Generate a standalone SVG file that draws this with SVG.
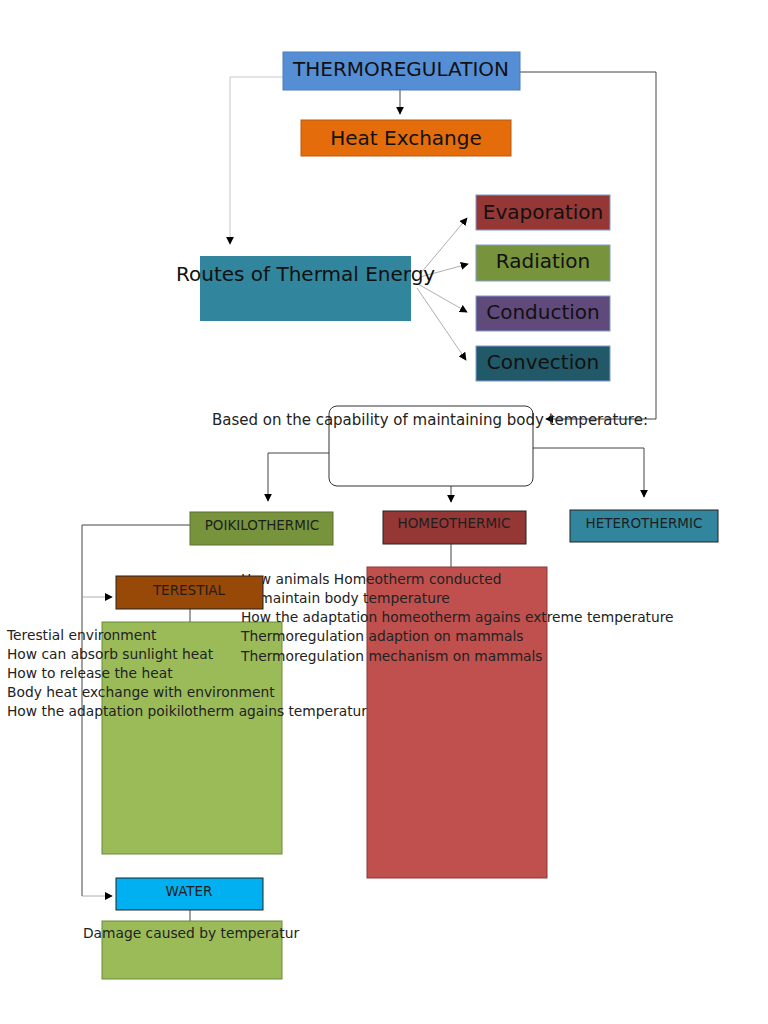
<svg xmlns="http://www.w3.org/2000/svg" width="768" height="1024" viewBox="0 0 768 1024">
<style>
text{font-family:"DejaVu Sans","Verdana",sans-serif;fill:#111}
.big{font-size:20px}
.lbl{font-size:13.5px;fill:#1e1e1e}
.body{font-size:13.8px;fill:#222}
.c{text-anchor:middle}
.ln{fill:none;stroke:#444;stroke-width:1}
.lg{fill:none;stroke:#c8c8c8;stroke-width:1}
.lt{fill:none;stroke:#999;stroke-width:0.8}
.bx{stroke:#7f9ccf;stroke-width:1}
.dk{stroke:#222;stroke-width:1}
</style>
<defs>
<marker id="ah" viewBox="0 0 10 10" refX="9" refY="5" markerWidth="8" markerHeight="8" markerUnits="userSpaceOnUse" orient="auto">
<path d="M0,0 L10,5 L0,10 z" fill="#000"/>
</marker>
</defs>
<g id="connectors">
<path class="lg" d="M283,77 H230 V244" marker-end="url(#ah)"/>
<path class="ln" d="M400,90 V114" marker-end="url(#ah)"/>
<path class="ln" d="M520,72 H656 V419 H546" marker-end="url(#ah)"/>
<path class="lt" d="M420,274 L467,218" marker-end="url(#ah)"/>
<path class="lt" d="M420,277 L468,264" marker-end="url(#ah)"/>
<path class="lt" d="M418,284 L467,312" marker-end="url(#ah)"/>
<path class="lt" d="M417,288 L466,360" marker-end="url(#ah)"/>
<path class="ln" d="M329,453 H268 V501" marker-end="url(#ah)"/>
<path class="ln" d="M451,486 V502" marker-end="url(#ah)"/>
<path class="ln" d="M533,448 H644 V497" marker-end="url(#ah)"/>
<path class="ln" d="M190,525 H82 V896"/>
<path class="lt" d="M82,597 H112" marker-end="url(#ah)"/>
<path class="lt" d="M82,896 H112" marker-end="url(#ah)"/>
<path class="ln" d="M190,609 V622"/>
<path class="ln" d="M451,544 V567"/>
<path class="ln" d="M190,910 V921"/>
</g>
<g id="thermoregulation">
<rect x="283" y="52" width="237" height="38" fill="#558ed5" stroke="#4a7cc0"/>
<text class="big c" x="401" y="76">THERMOREGULATION</text>
</g>
<g id="heat-exchange">
<rect x="301" y="120" width="210" height="36" fill="#e46c0a" stroke="#b85a10"/>
<text class="big c" x="406" y="145">Heat Exchange</text>
</g>
<g id="routes">
<rect x="200" y="256" width="211" height="65" fill="#31859c"/>
<text class="big" x="176" y="281">Routes of Thermal Energy</text>
</g>
<g id="evaporation">
<rect class="bx" x="476" y="195" width="134" height="35" fill="#953735"/>
<text class="big c" x="543" y="219">Evaporation</text>
</g>
<g id="radiation">
<rect class="bx" x="476" y="245" width="134" height="36" fill="#77933c"/>
<text class="big c" x="543" y="268">Radiation</text>
</g>
<g id="conduction">
<rect class="bx" x="476" y="296" width="134" height="35" fill="#604a7b"/>
<text class="big c" x="543" y="319">Conduction</text>
</g>
<g id="convection">
<rect class="bx" x="476" y="346" width="134" height="35" fill="#215968"/>
<text class="big c" x="543" y="369">Convection</text>
</g>
<g id="capability">
<rect x="329" y="406" width="204" height="80" rx="8" fill="#fff" stroke="#333"/>
<text class="body" x="212" y="425" style="font-size:15px">Based on the capability of maintaining body temperature:</text>
</g>
<g id="poikilothermic">
<rect x="190" y="512" width="143" height="33" fill="#77933c" stroke="#5a7030"/>
<text class="lbl c" x="262" y="530">POIKILOTHERMIC</text>
</g>
<g id="homeothermic">
<rect class="dk" x="383" y="511" width="143" height="33" fill="#953735"/>
<text class="lbl c" x="454" y="528">HOMEOTHERMIC</text>
</g>
<g id="heterothermic">
<rect class="dk" x="570" y="510" width="148" height="32" fill="#31859c"/>
<text class="lbl c" x="644" y="528">HETEROTHERMIC</text>
</g>
<g id="poikilotherm-topics">
<rect x="102" y="622" width="180" height="232" fill="#9bbb59" stroke="#6a8a3a"/>
<text class="body" x="7" y="640">Terestial environment</text>
<text class="body" x="7" y="659">How can absorb sunlight heat</text>
<text class="body" x="7" y="678">How to release the heat</text>
<text class="body" x="7" y="697">Body heat exchange with environment</text>
<text class="body" x="7" y="716">How the adaptation poikilotherm agains temperatur</text>
</g>
<g id="homeotherm-topics">
<rect x="367" y="567" width="180" height="311" fill="#c0504d" stroke="#8a3a38"/>
<text class="body" x="241" y="584">How animals Homeotherm conducted</text>
<text class="body" x="241" y="603">to maintain body temperature</text>
<text class="body" x="241" y="622">How the adaptation homeotherm agains extreme temperature</text>
<text class="body" x="241" y="641">Thermoregulation adaption on mammals</text>
<text class="body" x="241" y="661">Thermoregulation mechanism on mammals</text>
</g>
<g id="terestial">
<rect class="dk" x="116" y="576" width="147" height="33" fill="#984807"/>
<text class="lbl c" x="189" y="595">TERESTIAL</text>
</g>
<g id="water">
<rect class="dk" x="116" y="878" width="147" height="32" fill="#00b0f0"/>
<text class="lbl c" x="189" y="896">WATER</text>
</g>
<g id="water-topics">
<rect x="102" y="921" width="180" height="58" fill="#9bbb59" stroke="#6a8a3a"/>
<text class="body" x="83" y="938">Damage caused by temperatur</text>
</g>
</svg>
